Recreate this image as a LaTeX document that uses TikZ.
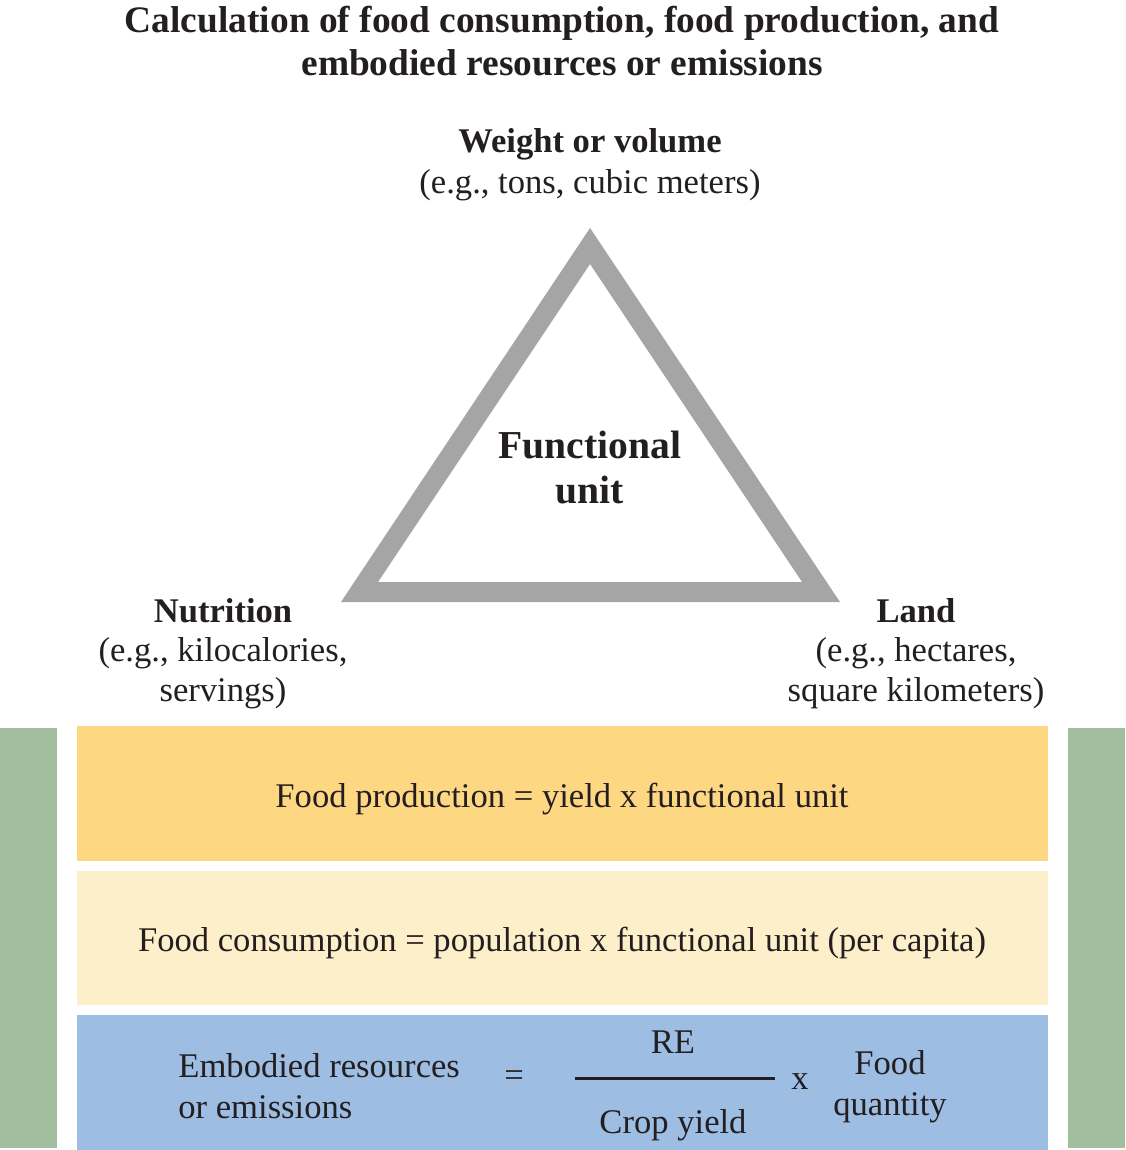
\documentclass[tikz,border=0pt]{standalone}
\usepackage{fontspec}
\setmainfont{Liberation Serif}
\definecolor{gbar}{HTML}{A2BE9E}
\definecolor{obox}{HTML}{FED783}
\definecolor{ybox}{HTML}{FEEFCB}
\definecolor{bbox}{HTML}{9DBDE3}
\definecolor{tri}{HTML}{A6A5A6}
\definecolor{ink}{HTML}{231F20}
\tikzset{
  body/.style={font=\fontsize{17.3}{20.5}\selectfont, text=ink, inner sep=0pt, align=center},
  lbl/.style={font=\fontsize{17.3}{20}\selectfont, text=ink, inner sep=0pt, align=center},
  blbl/.style={font=\fontsize{17.3}{20}\selectfont\bfseries, text=ink, inner sep=0pt, align=center},
  ttl/.style={font=\fontsize{18.7}{21.5}\selectfont\bfseries, text=ink, inner sep=0pt, align=center}
}
\begin{document}
\begin{tikzpicture}[x=0.5pt,y=-0.5pt]
\useasboundingbox[fill=white] (0,0) rectangle (1125,1150);
% side bars
\fill[gbar] (0,728) rectangle (57,1148);
\fill[gbar] (1068,728) rectangle (1125,1148);
% boxes
\fill[obox] (77,726) rectangle (1048,861);
\fill[ybox] (77,871) rectangle (1048,1005);
\fill[bbox] (77,1015) rectangle (1048,1150);
% triangle
\fill[tri, even odd rule] (590,228) -- (341,602) -- (840,602) -- cycle
  (590,264) -- (378,582) -- (802,582) -- cycle;
% title
\node[ttl] (title) at (562,41.5) {Calculation of food consumption, food production, and\\embodied resources or emissions};
% corners
\node[blbl] (wt) at (590,144) {Weight or volume};
\node[lbl] (wts) at (590,185) {(e.g., tons, cubic meters)};
\node[blbl] (nut) at (223,611) {Nutrition};
\node[lbl] (nuts) at (223,673) {(e.g., kilocalories,\\servings)};
\node[blbl] (land) at (916,611) {Land};
\node[lbl] (lands) at (916,673) {(e.g., hectares,\\square kilometers)};
\node[ttl, font=\fontsize{19.8}{22.5}\selectfont\bfseries] (fu) at (590,467) {Functional\\unit};
% box texts
\node[body] (prod) at (562,799) {Food production = yield x functional unit};
\node[body] (cons) at (562,943) {Food consumption = population x functional unit (per capita)};
\node[body, align=left, anchor=west] (emb) at (178,1086) {Embodied resources\\or emissions};
\node[body] (eq) at (514,1079) {=};
\coordinate (fl) at (575,1078);
\coordinate (fr) at (775,1078);
\draw[ink, line width=1.5pt] (fl) -- (fr);
\node[body] (re) at (673,1042) {RE};
\node[body] (cy) at (673,1125) {Crop yield};
\node[body] (times) at (800,1082) {x};
\node[body] (fq) at (890,1087) {Food\\quantity};
\end{tikzpicture}
\end{document}
